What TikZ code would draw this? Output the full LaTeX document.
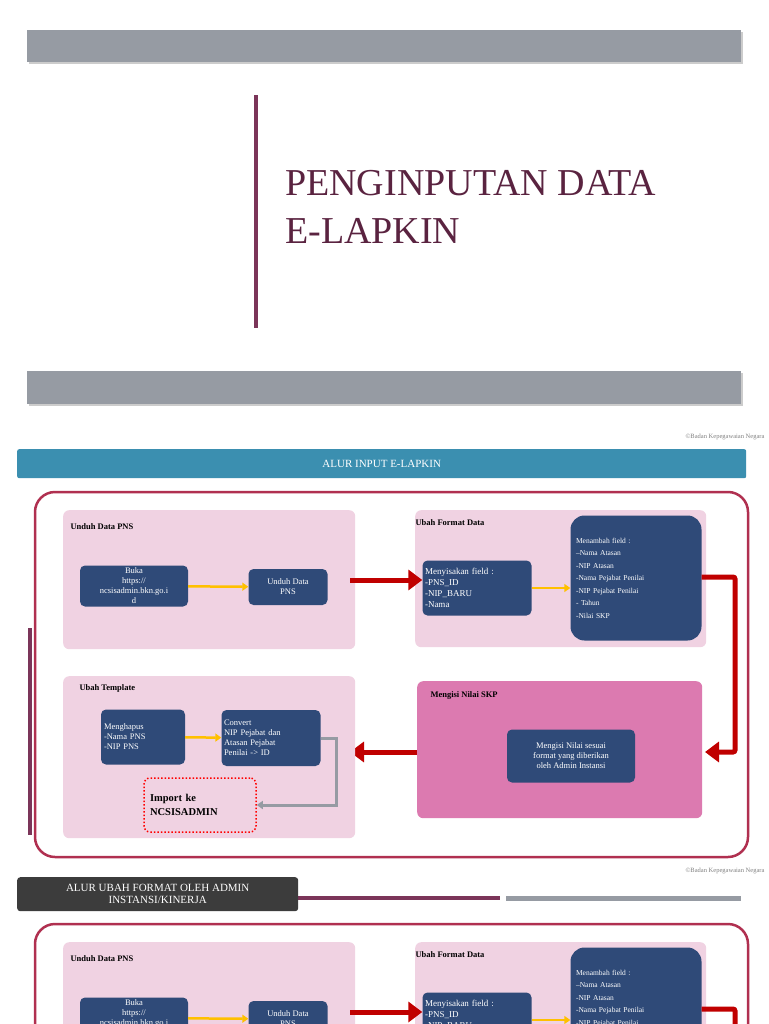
\documentclass[tikz,border=0pt]{standalone}
\usepackage{fontspec}
\setmainfont{Liberation Serif}
\usetikzlibrary{arrows.meta}
\definecolor{gbar}{HTML}{969BA3}
\definecolor{maroon}{HTML}{7B3559}
\definecolor{ttl}{HTML}{5A2340}
\definecolor{teal}{HTML}{3B8FB0}
\definecolor{frame}{HTML}{B03050}
\definecolor{pnl}{HTML}{F0D2E2}
\definecolor{pnl2}{HTML}{DC7AB0}
\definecolor{navy}{HTML}{2F4A78}
\definecolor{yel}{HTML}{FFC000}
\definecolor{redar}{HTML}{C00000}
\definecolor{dark}{HTML}{3C3C3C}
\tikzset{
 panel/.style={fill=pnl,rounded corners=6pt},
 nbox/.style={fill=navy,rounded corners=5pt,text=white,font=\fontsize{8.5}{10}\selectfont,align=left,inner sep=2pt},
 plab/.style={font=\bfseries\fontsize{8.5}{10}\selectfont,anchor=west},
 yarr/.style={yel,line width=2.5pt,-{Triangle[length=6pt,width=8pt]}},
 rarr/.style={redar,line width=5pt,-{Triangle[length=14pt,width=20pt]}},
 garr/.style={gbar,line width=3pt,-{Triangle[length=6pt,width=8pt]}},
}
\newcommand\myflow[1]{%
 \draw[frame,line width=2.5pt,rounded corners=20pt] (35,492) rectangle (748,857);
 \fill[maroon] (28,628) rectangle (32,835);
 \node[panel,minimum width=292pt,minimum height=139pt,anchor=north west] (#1p1) at (63,510) {};
 \node[plab] at (67,527) {Unduh Data PNS};
 \node[nbox,align=center,minimum width=108pt,minimum height=41pt] (#1buka) at (134,586) {Buka\\https://\\ncsisadmin.bkn.go.i\\d};
 \node[nbox,align=center,minimum width=79pt,minimum height=36pt] (#1unduh) at (288,587) {Unduh Data\\PNS};
 \draw[yarr] (#1buka) -- (#1unduh);
 \node[panel,minimum width=291pt,minimum height=137pt,anchor=north west] (#1p2) at (415,510) {};
 \node[plab] at (412,523) {Ubah Format Data};
 \node[nbox,minimum width=109pt,minimum height=55pt,text width=104pt,font=\fontsize{9}{11}\selectfont] (#1sisa) at (477,588) {Menyisakan field :\\-PNS\_ID\\-NIP\_BARU\\-Nama};
 \node[nbox,rounded corners=14pt,minimum width=131pt,minimum height=125pt,text width=120pt,font=\fontsize{7.5}{12.5}\selectfont] (#1tambah) at (636,578) {Menambah field :\\--Nama Atasan\\-NIP Atasan\\-Nama Pejabat Penilai\\-NIP Pejabat Penilai\\- Tahun\\-Nilai SKP\\[8pt]};
 \draw[yarr] (#1sisa.east) -- (#1tambah.west|-#1sisa.east);
 \draw[rarr] (350,580) -- (#1sisa.west|-0,580);
 \node[fill=pnl2,rounded corners=6pt,minimum width=285pt,minimum height=137pt,anchor=north west] (#1p4) at (417,681) {};
 \node[plab] at (427,695) {Mengisi Nilai SKP};
 \node[nbox,align=center,minimum width=128pt,minimum height=53pt] (#1isi) at (571,756) {Mengisi Nilai sesuai\\format yang diberikan\\oleh Admin Instansi};
 \coordinate (#1rc) at (705,752);
 \draw[rarr,rounded corners=2pt] (#1tambah.east|-0,577) -- (735,577) -- (735,752) -- (#1rc);
 \coordinate (#1lc) at (350,752);
 \draw[rarr] (#1p4.west|-0,752) -- (#1lc);
 \node[panel,minimum width=292pt,minimum height=162pt,anchor=north west] (#1p3) at (63,676) {};
 \node[plab] at (76,688) {Ubah Template};
 \node[nbox,minimum width=84pt,minimum height=55pt,text width=78pt] (#1hapus) at (143,737) {Menghapus\\-Nama PNS\\-NIP PNS};
 \node[nbox,minimum width=99pt,minimum height=56pt,text width=94pt] (#1conv) at (271,738) {Convert\\NIP Pejabat dan\\Atasan Pejabat\\Penilai -> ID};
 \draw[yarr] (#1hapus) -- (#1conv);
 \node[draw=red,dotted,line width=1.5pt,rounded corners=6pt,fill=pnl,minimum width=112pt,minimum height=54pt,font=\bfseries\fontsize{10.5}{13.5}\selectfont,align=left,text width=100pt] (#1imp) at (200,805) {Import ke\\NCSISADMIN};
 \draw[garr] (#1conv.east) -- (336,738) -- (336,805) -- (#1imp.east);
}
\begin{document}
\begin{tikzpicture}[x=1pt,y=-1pt]
\useasboundingbox (0,0) rectangle (768,1024);
\clip (0,0) rectangle (768,1024);
\fill[white] (0,0) rectangle (768,1024);
\fill[gray!40] (29,32) rectangle (743,64);
\fill[gbar] (27,30) rectangle (741,62);
\fill[maroon] (254,95) rectangle (258,328);
\node[anchor=north west,text=ttl,font=\fontsize{38}{48}\selectfont,align=left,inner sep=0pt] (title) at (285,170) {PENGINPUTAN DATA\\E-LAPKIN};
\fill[gray!40] (29,373) rectangle (743,406);
\fill[gbar] (27,371) rectangle (741,404);
\node[anchor=east,font=\fontsize{6.5}{7}\selectfont,text=gray] (c1) at (768,437) {©Badan Kepegawaian Negara};
\node[fill=teal,minimum width=729pt,minimum height=29pt,rounded corners=2pt,text=white,font=\fontsize{11}{12}\selectfont,anchor=north west] (alur1) at (17,449) {ALUR INPUT E-LAPKIN};
\myflow{a}
\node[anchor=east,font=\fontsize{6.5}{7}\selectfont,text=gray] (c2) at (768,871) {©Badan Kepegawaian Negara};
\fill[maroon] (298,896) rectangle (500,900);
\fill[gbar] (506,896) rectangle (741,901);
\node[fill=dark,minimum width=281pt,minimum height=34pt,rounded corners=3pt,text=white,font=\fontsize{11}{12}\selectfont,align=center,anchor=north west,inner sep=1pt] (alur2) at (17,877) {ALUR UBAH FORMAT OLEH ADMIN\\INSTANSI/KINERJA};
\begin{scope}[yshift=-432pt]
\myflow{b}
\end{scope}
\end{tikzpicture}
\end{document}
